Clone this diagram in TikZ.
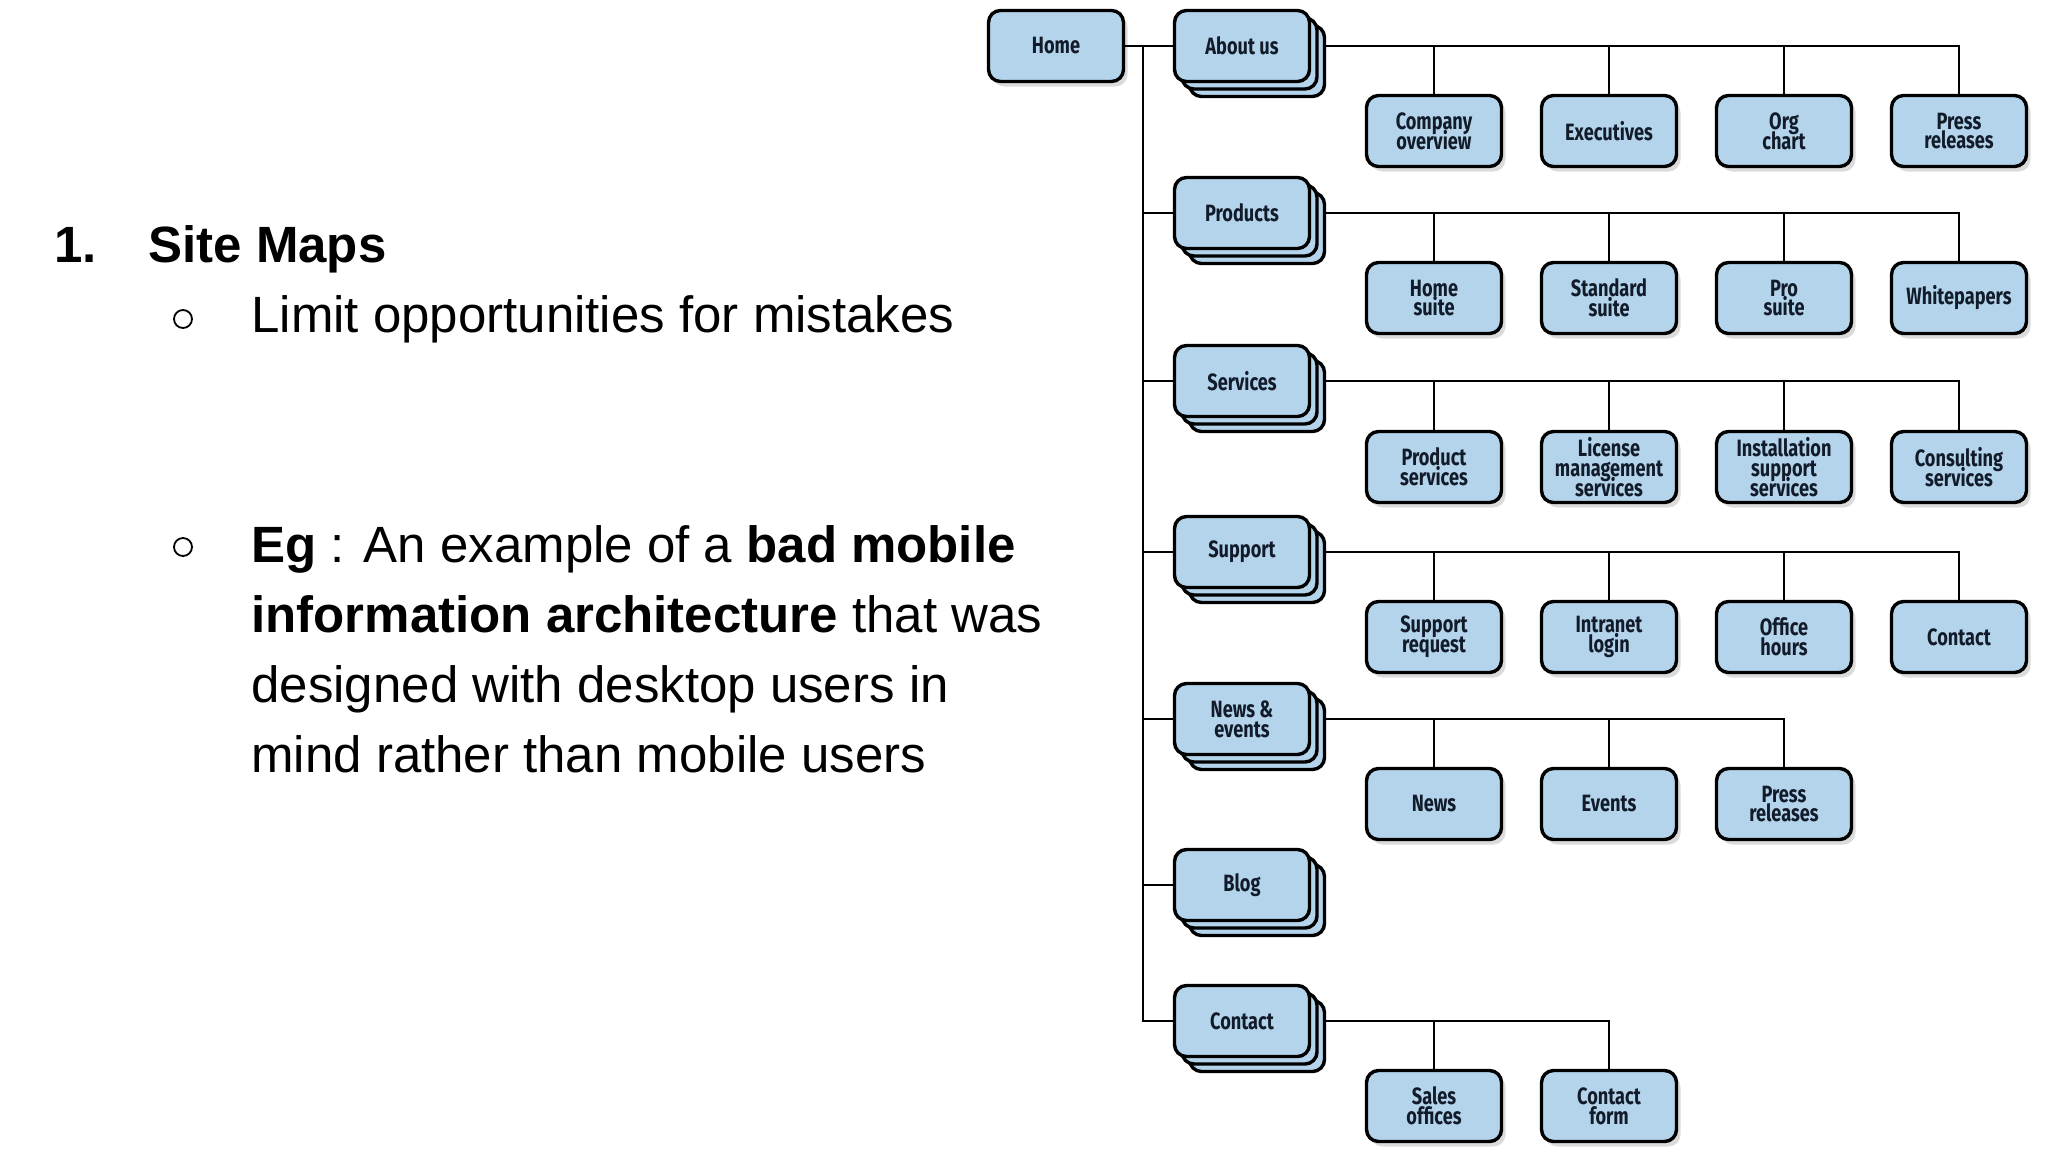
\documentclass[tikz,border=0pt]{standalone}
\usepackage{fontspec}
\setmainfont{Liberation Sans}
\newfontfamily\boxfont[FakeStretch=0.77]{Fira Sans}
\usetikzlibrary{shadows}
\definecolor{boxblue}{HTML}{B4D4EB}
\definecolor{boxtext}{HTML}{121B2A}
\newcommand\myboxfontsetup{\boxfont\bfseries\fontsize{11.8}{9.9}\selectfont\lineskiplimit=-20pt\relax}
\tikzset{
  basebox/.style={rectangle, rounded corners=6pt, draw=black, line width=1.7pt, fill=boxblue,
    minimum width=67.5pt, minimum height=35.5pt, inner sep=1pt, align=center,
    font=\myboxfontsetup, text=boxtext},
  leaf/.style={basebox, drop shadow={shadow xshift=2pt, shadow yshift=-2.5pt, opacity=0.28}},
  section/.style={basebox, double copy shadow={shadow xshift=3.75pt, shadow yshift=-3.75pt,
    fill=boxblue, draw=black, line width=1.7pt}},
  link/.style={line width=1.2pt, draw=black},
  slide/.style={anchor=base west, inner sep=0pt, font=\fontsize{25.5}{30}\selectfont},
  bulletmark/.style={circle, draw=black, line width=0.9pt, minimum size=9pt, inner sep=0pt},
}
\begin{document}
\begin{tikzpicture}[x=0.5pt, y=-0.5pt]
\useasboundingbox (0,0) rectangle (2048,1152);
\fill[white] (0,0) rectangle (2048,1152);

% left text
\node[slide, font=\bfseries\fontsize{25.5}{30}\selectfont] (num) at (54,262) {1.};
\node[slide, font=\bfseries\fontsize{25.5}{30}\selectfont] (title) at (148,262) {Site Maps};
\node[bulletmark] (b1) at (183,319) {};
\node[slide] (limit) at (251,332) {Limit opportunities for mistakes};
\node[bulletmark] (b2) at (183,547) {};
\node[slide] (eg1) at (251,562) {\textbf{Eg} : An example of a \textbf{bad mobile}};
\node[slide] (eg2) at (251,632) {\textbf{information architecture} that was};
\node[slide] (eg3) at (251,702) {designed with desktop users in};
\node[slide] (eg4) at (251,772) {mind rather than mobile users};

% home
\node[leaf] (home) at (1056,46) {Home};

% level 1
\node[section] (about) at (1242,46) {About us};
\node[section] (products) at (1242,213) {Products};
\node[section] (services) at (1242,381) {Services};
\node[section] (support) at (1242,552) {Support};
\node[section] (news) at (1242,719) {News \&\\events};
\node[section] (blog) at (1242,885) {Blog};
\node[section] (contact) at (1242,1021) {Contact};

% children
\node[leaf] (a1) at (1434,131) {Company\\overview};
\node[leaf] (a2) at (1609,131) {Executives};
\node[leaf] (a3) at (1784,131) {Org\\chart};
\node[leaf] (a4) at (1959,131) {Press\\releases};

\node[leaf] (p1) at (1434,298) {Home\\suite};
\node[leaf] (p2) at (1609,298) {Standard\\suite};
\node[leaf] (p3) at (1784,298) {Pro\\suite};
\node[leaf] (p4) at (1959,298) {Whitepapers};

\node[leaf] (s1) at (1434,467) {Product\\services};
\node[leaf] (s2) at (1609,467) {License\\management\\services};
\node[leaf] (s3) at (1784,467) {Installation\\support\\services};
\node[leaf] (s4) at (1959,467) {Consulting\\services};

\node[leaf] (u1) at (1434,637) {Support\\request};
\node[leaf] (u2) at (1609,637) {Intranet\\login};
\node[leaf] (u3) at (1784,637) {Office\\hours};
\node[leaf] (u4) at (1959,637) {Contact};

\node[leaf] (n1) at (1434,804) {News};
\node[leaf] (n2) at (1609,804) {Events};
\node[leaf] (n3) at (1784,804) {Press\\releases};

\node[leaf] (c1) at (1434,1106) {Sales\\offices};
\node[leaf] (c2) at (1609,1106) {Contact\\form};

% connectors
\coordinate (t0) at (1143,46);
\draw[link] (home.east) -- (about.west);
\draw[link] (t0) |- (contact.west);
\foreach \n in {products,services,support,news,blog}
  \draw[link] (t0 |- \n.west) -- (\n.west);

\draw[link] ([xshift=7.5pt]about.east) -| (a4.north);
\foreach \c in {a1,a2,a3} \draw[link] (\c.north) -- (\c.north |- about.east);
\draw[link] ([xshift=7.5pt]products.east) -| (p4.north);
\foreach \c in {p1,p2,p3} \draw[link] (\c.north) -- (\c.north |- products.east);
\draw[link] ([xshift=7.5pt]services.east) -| (s4.north);
\foreach \c in {s1,s2,s3} \draw[link] (\c.north) -- (\c.north |- services.east);
\draw[link] ([xshift=7.5pt]support.east) -| (u4.north);
\foreach \c in {u1,u2,u3} \draw[link] (\c.north) -- (\c.north |- support.east);
\draw[link] ([xshift=7.5pt]news.east) -| (n3.north);
\foreach \c in {n1,n2} \draw[link] (\c.north) -- (\c.north |- news.east);
\draw[link] ([xshift=7.5pt]contact.east) -| (c2.north);
\draw[link] (c1.north) -- (c1.north |- contact.east);
\end{tikzpicture}
\end{document}
